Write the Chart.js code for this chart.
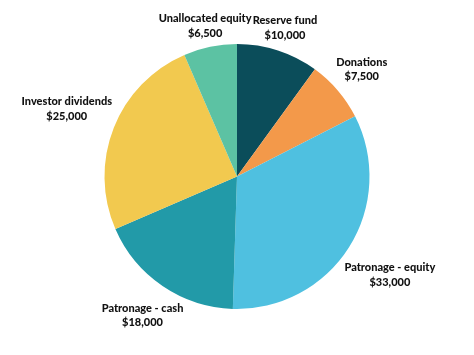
<!DOCTYPE html>
<html>
<head>
<meta charset="utf-8">
<script src="https://cdn.jsdelivr.net/npm/chart.js@4/dist/chart.umd.min.js"></script>
<style>
  html, body { margin: 0; padding: 0; background: #ffffff; }
  #wrap { width: 474px; height: 355px; position: relative; }
</style>
</head>
<body>
<div id="wrap"><canvas id="c" width="474" height="355"></canvas></div>
<script>
// Data
const categories = ["Reserve fund", "Donations", "Patronage - equity", "Patronage - cash", "Investor dividends", "Unallocated equity"];
const amounts = [10000, 7500, 33000, 18000, 25000, 6500];
const valueLabels = ["$10,000", "$7,500", "$33,000", "$18,000", "$25,000", "$6,500"];

// Styles
const sliceColors = ["#0b4d5a", "#f3994a", "#4fc0e0", "#229aa8", "#f2c94f", "#5cc2a3"];
// label nudges (px) from the outer edge of each slice's mid-angle
const labelNudge = [[7, -23], [24, -21], [41, 27], [-20, 29], [-47, -19], [-5, -21]];

const outsideLabels = {
  id: 'outsideLabels',
  afterDatasetsDraw(chart) {
    const ctx = chart.ctx;
    const meta = chart.getDatasetMeta(0);
    ctx.save();
    ctx.fillStyle = '#111111';
    ctx.font = '900 11px Lato, "Open Sans", sans-serif';
    ctx.textAlign = 'center';
    ctx.textBaseline = 'middle';
    meta.data.forEach((arc, i) => {
      const p = arc.getProps(['x', 'y', 'startAngle', 'endAngle', 'outerRadius'], true);
      const mid = (p.startAngle + p.endAngle) / 2;
      const x = p.x + Math.cos(mid) * p.outerRadius + labelNudge[i][0];
      const y = p.y + Math.sin(mid) * p.outerRadius + labelNudge[i][1];
      ctx.fillText(categories[i], x, y - 7);
      ctx.fillText(valueLabels[i], x, y + 7.5);
    });
    ctx.restore();
  }
};

new Chart(document.getElementById('c'), {
  type: 'pie',
  data: {
    labels: categories,
    datasets: [{
      data: amounts,
      backgroundColor: sliceColors,
      borderWidth: 0
    }]
  },
  options: {
    responsive: false,
    animation: false,
    layout: { padding: { top: 44, bottom: 46, left: 0, right: 0 } },
    plugins: {
      legend: { display: false },
      tooltip: { enabled: false }
    }
  },
  plugins: [outsideLabels]
});
</script>
</body>
</html>
